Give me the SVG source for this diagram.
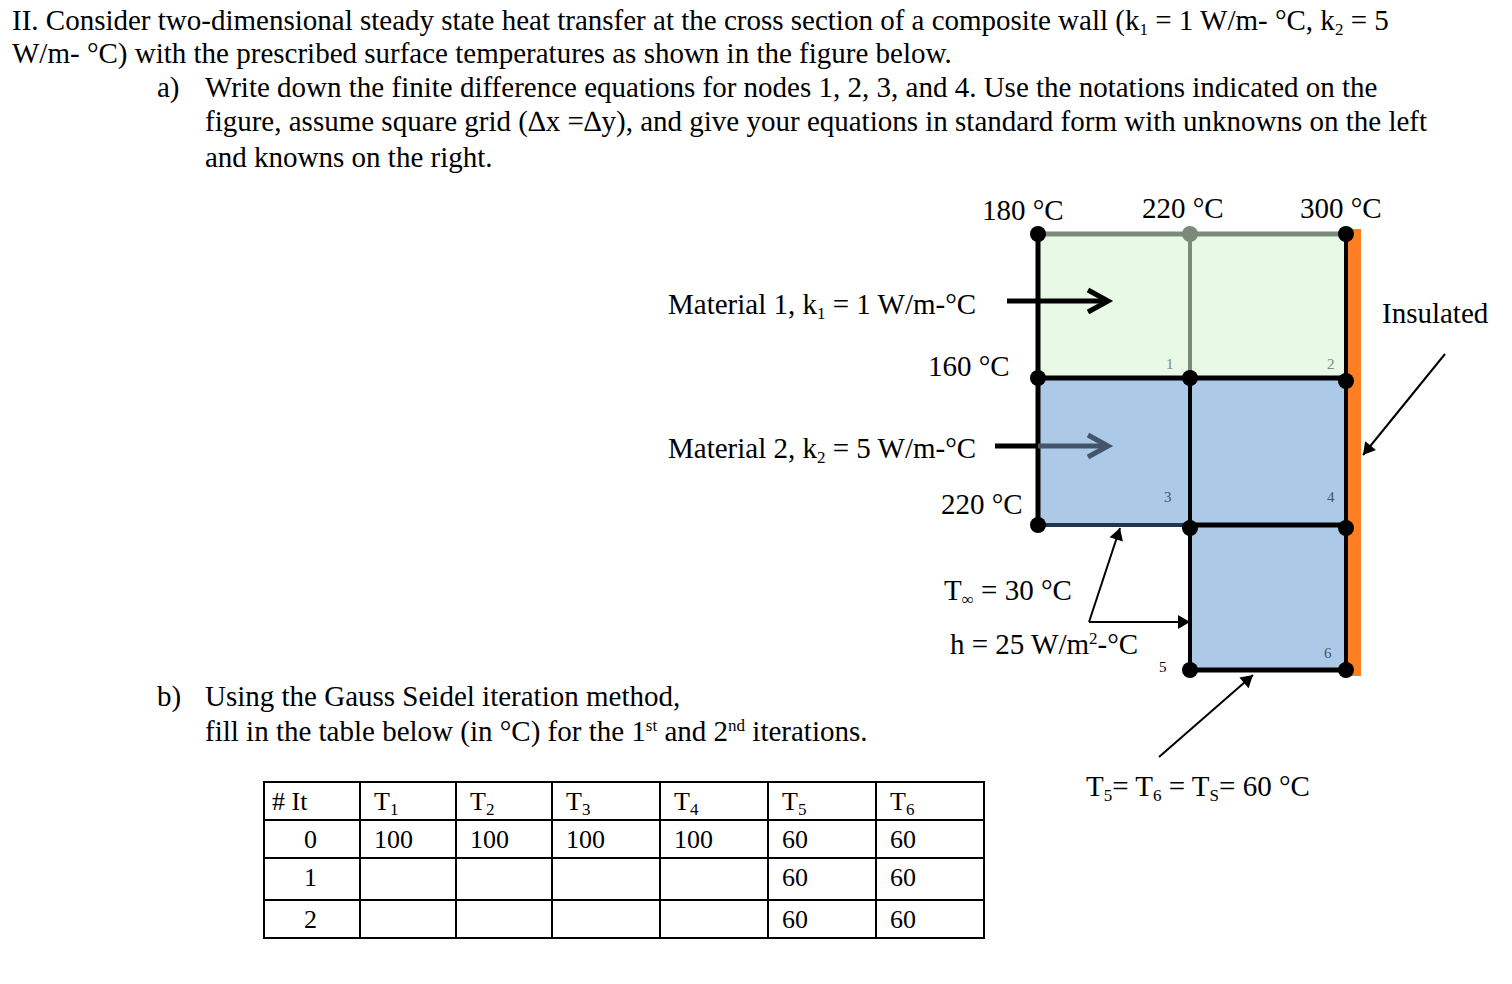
<svg xmlns="http://www.w3.org/2000/svg" width="1512" height="984" viewBox="0 0 1512 984">
<style>
text{font-family:"Liberation Serif","Times New Roman",serif;font-size:29px;fill:#000}
.sm{font-size:17px}
.n{font-size:15px;fill:#44546a}
.t{font-size:26px}
.tl line{stroke:#000;stroke-width:2}
</style>
<defs>
<marker id="ah2" markerWidth="16" markerHeight="16" refX="14" refY="8" orient="auto" markerUnits="userSpaceOnUse" viewBox="0 0 16 16"><path d="M2,1 L14,8 L2,15 z" fill="#000"/></marker>
</defs>
<rect width="1512" height="984" fill="#fff"/>
<text x="12" y="30">II. Consider two-dimensional steady state heat transfer at the cross section of a composite wall (k<tspan class="sm" dy="5">1</tspan><tspan dy="-5"> = 1 W/m- °C, k</tspan><tspan class="sm" dy="5">2</tspan><tspan dy="-5"> = 5</tspan></text>
<text x="12" y="63">W/m- °C) with the prescribed surface temperatures as shown in the figure below.</text>
<text x="157" y="97">a)</text>
<text x="205" y="97">Write down the finite difference equations for nodes 1, 2, 3, and 4. Use the notations indicated on the</text>
<text x="205" y="131">figure, assume square grid (∆x =∆y), and give your equations in standard form with unknowns on the left</text>
<text x="205" y="167">and knowns on the right.</text>
<text x="157" y="706">b)</text>
<text x="205" y="706">Using the Gauss Seidel iteration method,</text>
<text x="205" y="741">fill in the table below (in °C) for the 1<tspan class="sm" dy="-10">st</tspan><tspan dy="10"> and 2</tspan><tspan class="sm" dy="-10">nd</tspan><tspan dy="10"> iterations.</tspan></text>

<g id="cells">
<rect x="1038" y="234" width="308" height="144" fill="#e8f9e6"/>
<rect x="1038" y="378" width="308" height="147" fill="#adc9e8"/>
<rect x="1190" y="525" width="156" height="145" fill="#adc9e8"/>
<rect x="1346" y="229" width="15" height="447" fill="#fd7f21"/>
</g>
<g id="grid" fill="none">
<line x1="1038" y1="234" x2="1346" y2="234" stroke="#7a8b7a" stroke-width="5"/>
<line x1="1190" y1="234" x2="1190" y2="378" stroke="#7a8b7a" stroke-width="4"/>
<line x1="1038" y1="234" x2="1038" y2="525" stroke="#000" stroke-width="5"/>
<line x1="1038" y1="378" x2="1346" y2="378" stroke="#000" stroke-width="5"/>
<line x1="1038" y1="525" x2="1190" y2="525" stroke="#1f3550" stroke-width="4"/>
<line x1="1190" y1="378" x2="1190" y2="670" stroke="#000" stroke-width="4"/>
<line x1="1190" y1="525" x2="1346" y2="525" stroke="#000" stroke-width="5"/>
<line x1="1190" y1="670" x2="1346" y2="670" stroke="#000" stroke-width="5"/>
<line x1="1346" y1="234" x2="1346" y2="670" stroke="#000" stroke-width="4"/>
</g>
<g id="nodes" fill="#000">
<circle cx="1038" cy="234" r="8"/><circle cx="1190" cy="234" r="8" fill="#7a8b7a"/><circle cx="1346" cy="234" r="8"/>
<circle cx="1038" cy="378" r="8"/><circle cx="1190" cy="378" r="8"/><circle cx="1346" cy="381" r="8"/>
<circle cx="1038" cy="525" r="8"/><circle cx="1190" cy="528" r="8"/><circle cx="1346" cy="528" r="8"/>
<circle cx="1190" cy="670" r="8"/><circle cx="1346" cy="670" r="8"/>
</g>
<g id="labels">
<text x="982" y="220">180 °C</text>
<text x="1142" y="218">220 °C</text>
<text x="1300" y="218">300 °C</text>
<text x="928" y="376">160  °C</text>
<text x="941" y="514">220 °C</text>
<text x="668" y="314">Material 1, k<tspan class="sm" dy="5">1</tspan><tspan dy="-5"> = 1 W/m-°C</tspan></text>
<text x="668" y="458">Material 2, k<tspan class="sm" dy="5">2</tspan><tspan dy="-5"> = 5 W/m-°C</tspan></text>
<text x="1382" y="323">Insulated</text>
<text x="944" y="600">T<tspan class="sm" dy="5">∞</tspan><tspan dy="-5"> = 30 °C</tspan></text>
<text x="950" y="654">h = 25 W/m<tspan class="sm" dy="-10">2</tspan><tspan dy="10">-°C</tspan></text>
<text x="1086" y="796">T<tspan class="sm" dy="5">5</tspan><tspan dy="-5">= T</tspan><tspan class="sm" dy="5">6</tspan><tspan dy="-5"> = T</tspan><tspan class="sm" dy="5">S</tspan><tspan dy="-5">= 60 °C</tspan></text>
<text class="n" x="1166" y="369" style="fill:#7a8b7a">1</text>
<text class="n" x="1327" y="369" style="fill:#7a8b7a">2</text>
<text class="n" x="1164" y="502">3</text>
<text class="n" x="1327" y="502">4</text>
<text class="n" x="1324" y="658">6</text>
<text class="n" x="1159" y="672" style="fill:#000">5</text>
</g>
<g id="connectors" fill="none" stroke="#000" stroke-width="2">
<line x1="1007" y1="301" x2="1107" y2="301" stroke-width="5"/>
<polyline points="1088,290 1108,301 1088,312" stroke-width="5"/>
<line x1="995" y1="446" x2="1038" y2="446" stroke-width="5"/>
<line x1="1038" y1="446" x2="1107" y2="446" stroke="#44546a" stroke-width="5"/>
<polyline points="1088,435 1108,446 1088,457" stroke="#44546a" stroke-width="5"/>
<line x1="1445" y1="354" x2="1363" y2="455" marker-end="url(#ah2)"/>
<polyline points="1089,622 1120,528" marker-end="url(#ah2)"/>
<polyline points="1089,622 1190,622" marker-end="url(#ah2)"/>
<line x1="1159" y1="757" x2="1253" y2="675" marker-end="url(#ah2)"/>
</g>
<g id="table" class="tl">
<rect x="264" y="782" width="720" height="156" fill="none" stroke="#000" stroke-width="2"/>
<line x1="360" y1="782" x2="360" y2="938"/><line x1="456" y1="782" x2="456" y2="938"/>
<line x1="552" y1="782" x2="552" y2="938"/><line x1="660" y1="782" x2="660" y2="938"/>
<line x1="768" y1="782" x2="768" y2="938"/><line x1="876" y1="782" x2="876" y2="938"/>
<line x1="264" y1="820" x2="984" y2="820"/><line x1="264" y1="858" x2="984" y2="858"/>
<line x1="264" y1="900" x2="984" y2="900"/>
<text class="t" x="272" y="810"># It</text>
<text class="t" x="374" y="810">T<tspan class="sm" dy="5">1</tspan></text>
<text class="t" x="470" y="810">T<tspan class="sm" dy="5">2</tspan></text>
<text class="t" x="566" y="810">T<tspan class="sm" dy="5">3</tspan></text>
<text class="t" x="674" y="810">T<tspan class="sm" dy="5">4</tspan></text>
<text class="t" x="782" y="810">T<tspan class="sm" dy="5">5</tspan></text>
<text class="t" x="890" y="810">T<tspan class="sm" dy="5">6</tspan></text>
<text class="t" x="304" y="848">0</text><text class="t" x="374" y="848">100</text><text class="t" x="470" y="848">100</text><text class="t" x="566" y="848">100</text><text class="t" x="674" y="848">100</text><text class="t" x="782" y="848">60</text><text class="t" x="890" y="848">60</text>
<text class="t" x="304" y="886">1</text><text class="t" x="782" y="886">60</text><text class="t" x="890" y="886">60</text>
<text class="t" x="304" y="928">2</text><text class="t" x="782" y="928">60</text><text class="t" x="890" y="928">60</text>
</g>
</svg>
